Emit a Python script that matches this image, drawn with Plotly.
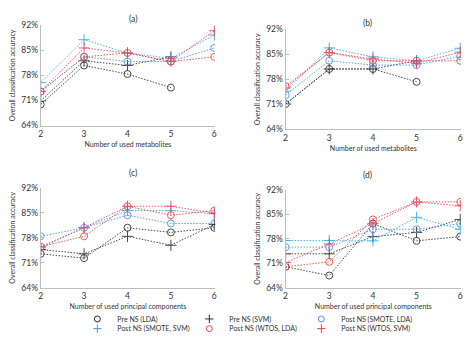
import plotly.graph_objects as go

x_vals = [2, 3, 4, 5, 6]
tick_vals = [64, 71, 78, 85, 92]
tick_text = ["64%", "71%", "78%", "85%", "92%"]

series_names = ["Pre NS (LDA)", "Pre NS (SVM)", "Post NS (SMOTE, LDA)",
                "Post NS (SMOTE, SVM)", "Post NS (WTOS, LDA)", "Post NS (WTOS, SVM)"]

# panel (a)
a_pre_lda = [69.9, 80.8, 78.4, 74.6, None]
a_pre_svm = [70.9, 82.1, 80.8, 83.2, None]
a_smote_lda = [73.5, 83.2, 81.9, 81.9, 85.7]
a_smote_svm = [76.0, 88.0, 84.3, 82.8, 89.3]
a_wtos_lda = [73.5, 83.2, 84.3, 81.9, 83.2]
a_wtos_svm = [73.5, 85.7, 84.3, 81.9, 90.5]

# panel (b)
b_pre_lda = [71.1, 80.9, 80.9, 77.3, None]
b_pre_svm = [71.1, 80.9, 80.9, 83.2, None]
b_smote_lda = [73.6, 83.2, 82.0, 82.0, 84.5]
b_smote_svm = [74.7, 86.8, 84.3, 83.2, 86.7]
b_wtos_lda = [76.1, 85.5, 83.2, 83.2, 83.2]
b_wtos_svm = [75.6, 85.5, 83.7, 82.5, 85.6]

# panel (c)
c_pre_lda = [73.5, 72.3, 80.8, 79.5, 80.8]
c_pre_svm = [74.7, 73.5, 78.4, 75.9, 81.7]
c_smote_lda = [78.4, 80.8, 84.3, 82.0, 82.0]
c_smote_svm = [75.2, 80.8, 85.6, 85.6, 84.7]
c_wtos_lda = [75.5, 78.4, 86.8, 84.3, 85.6]
c_wtos_svm = [75.5, 80.8, 86.8, 86.8, 84.9]

# panel (d)
d_pre_lda = [70.0, 67.5, 82.3, 77.4, 78.6]
d_pre_svm = [73.7, 73.7, 78.6, 79.8, 83.5]
d_smote_lda = [75.6, 75.6, 80.7, 80.7, 82.3]
d_smote_svm = [77.5, 77.5, 77.4, 84.1, 80.7]
d_wtos_lda = [70.0, 71.4, 83.5, 88.5, 88.5]
d_wtos_svm = [71.2, 76.5, 82.3, 88.5, 87.4]

panels = [
    ("(a)", "Number of used metabolites",
     [a_pre_lda, a_pre_svm, a_smote_lda, a_smote_svm, a_wtos_lda, a_wtos_svm]),
    ("(b)", "Number of used metabolites",
     [b_pre_lda, b_pre_svm, b_smote_lda, b_smote_svm, b_wtos_lda, b_wtos_svm]),
    ("(c)", "Number of used principal components",
     [c_pre_lda, c_pre_svm, c_smote_lda, c_smote_svm, c_wtos_lda, c_wtos_svm]),
    ("(d)", "Number of used principal components",
     [d_pre_lda, d_pre_svm, d_smote_lda, d_smote_svm, d_wtos_lda, d_wtos_svm]),
]

colors = ["#2b2b2b", "#2b2b2b", "#4a8ee0", "#33a8e8", "#e2463f", "#f2385a"]
symbols = ["circle-open", "cross-thin-open", "circle-open", "cross-thin-open",
           "circle-open", "cross-thin-open"]
sizes = [7, 8, 7, 8, 7, 8]
# legend row assignment (two horizontal rows of three)
legend_ids = ["legend", "legend", "legend", "legend2", "legend2", "legend2"]

W, H = 474, 355
# domains in pixels: (x0, x1, ytop, ybottom)
doms = [(39, 215, 21, 124), (286, 463, 25, 128), (39, 215, 188, 291), (286, 463, 190, 291)]
title_pos = [(126, 7), (375, 11), (126, 173), (375, 175)]

fig = go.Figure()
FONT = "Lato"
for i, (title, xlabel, series) in enumerate(panels):
    n = i + 1
    xa = "x" if n == 1 else f"x{n}"
    ya = "y" if n == 1 else f"y{n}"
    for j, ys in enumerate(series):
        fig.add_trace(go.Scatter(
            x=x_vals, y=ys, xaxis=xa, yaxis=ya, name=series_names[j],
            mode="lines+markers", connectgaps=False,
            line=dict(color=colors[j], width=1, dash="1.5px,1.5px"),
            marker=dict(symbol=symbols[j], size=sizes[j], color=colors[j],
                        line=dict(width=1, color=colors[j])),
            opacity=0.85, showlegend=False,
        ))
    x0, x1, yt, yb = doms[i]
    axkey = "xaxis" if n == 1 else f"xaxis{n}"
    aykey = "yaxis" if n == 1 else f"yaxis{n}"
    fig.layout[axkey] = dict(
        domain=[x0 / W, x1 / W], range=[2, 6.02], anchor=ya,
        tickvals=x_vals, showgrid=False, zeroline=False,
        showline=True, linecolor="#bdbdbd", linewidth=1,
        ticks="", tickfont=dict(size=8.5, color="#333", family=FONT),
        title=dict(text=xlabel, font=dict(size=7, color="#333", family=FONT), standoff=4),
    )
    fig.layout[aykey] = dict(
        domain=[1 - yb / H, 1 - yt / H], range=[64, 92], anchor=xa,
        tickvals=tick_vals, ticktext=tick_text, showgrid=False, zeroline=False,
        showline=True, linecolor="#bdbdbd", linewidth=1,
        ticks="inside", ticklen=3, tickcolor="#bdbdbd",
        tickfont=dict(size=8.5, color="#333", family=FONT),
        title=dict(text="Overall classification accuracy",
                   font=dict(size=7, color="#333", family=FONT), standoff=4),
    )
    tx, ty = title_pos[i]
    fig.add_annotation(x=tx / W, y=1 - ty / H, xref="paper", yref="paper",
                       text=title, showarrow=False,
                       font=dict(size=8.5, color="#333", family=FONT))

# legend-only entries (markers only, as in the reference)
for j in range(6):
    fig.add_trace(go.Scatter(
        x=[None], y=[None], mode="markers", name=series_names[j],
        marker=dict(symbol=symbols[j], size=6, color=colors[j],
                    line=dict(width=1, color=colors[j])),
        showlegend=True, legend=legend_ids[j],
    ))

leg_common = dict(orientation="h", yanchor="middle", xanchor="left", x=(100 - 24) / W,
                  font=dict(size=7, color="#333", family=FONT), itemwidth=30,
                  entrywidth=67, entrywidthmode="pixels",
                  bgcolor="rgba(0,0,0,0)", tracegroupgap=0, traceorder="normal")
fig.update_layout(
    width=W, height=H,
    margin=dict(l=0, r=0, t=0, b=0),
    paper_bgcolor="white", plot_bgcolor="white",
    font=dict(family=FONT, color="#333"),
    legend=dict(y=0.090, **leg_common),
    legend2=dict(y=0.062, **leg_common),
)

fig.write_html("out.html", config={"displayModeBar": False},
               post_script="document.body.style.margin='0';")
